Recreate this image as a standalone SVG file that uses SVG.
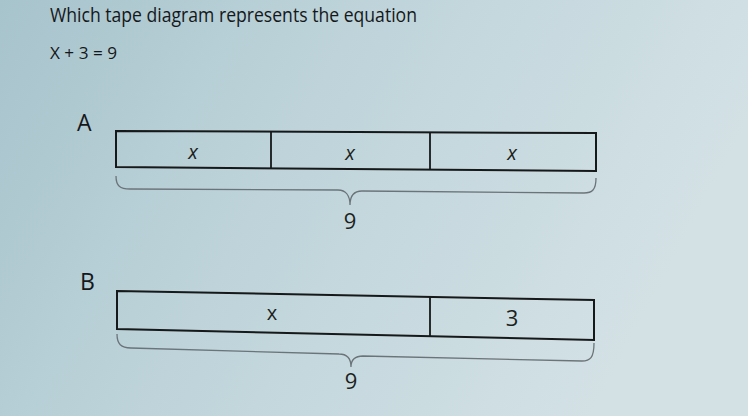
<svg xmlns="http://www.w3.org/2000/svg" width="748" height="416" viewBox="0 0 748 416">
<defs>
<linearGradient id="bg" x1="0" y1="0" x2="1" y2="0.3">
<stop offset="0" stop-color="#a7c3cc"/>
<stop offset="0.45" stop-color="#bed4da"/>
<stop offset="1" stop-color="#d3e1e5"/>
</linearGradient>
</defs>
<style>
.t{font-family:"Open Sans","Noto Sans",sans-serif;fill:#15181a}
.box{fill:none;stroke:#161819;stroke-width:2}
.div{stroke:#161819;stroke-width:1.8}
.brace{fill:none;stroke:#6b7479;stroke-width:1.3}
.lbl{font-family:"Open Sans","Noto Sans",sans-serif;fill:#1c1f21;font-size:20px;text-anchor:middle}
.num{font-family:"Open Sans","Noto Sans",sans-serif;fill:#1c1f21;font-size:22px;text-anchor:middle}
</style>
<rect width="748" height="416" fill="url(#bg)"/>
<g id="question">
<text class="t" x="50" y="22" font-size="20" font-weight="500" textLength="367" lengthAdjust="spacingAndGlyphs">Which tape diagram represents the equation</text>
<text class="t" x="50" y="59" font-size="17" textLength="67" lengthAdjust="spacingAndGlyphs">X + 3 = 9</text>
</g>
<g id="optionA">
<text class="t" x="77" y="131" font-size="23">A</text>
<polygon class="box" points="116,131 596,133 596,171 116,167"/>
<line class="div" x1="271" y1="131" x2="271" y2="168"/>
<line class="div" x1="430" y1="132" x2="430" y2="170"/>
<text class="lbl" x="193" y="159" font-style="italic">x</text>
<text class="lbl" x="350" y="160" font-style="italic">x</text>
<text class="lbl" x="512" y="160" font-style="italic">x</text>
</g>
<g id="optionB">
<text class="t" x="80" y="290" font-size="23">B</text>
<polygon class="box" points="117,291 594,300 594,340 117,329"/>
<line class="div" x1="430" y1="297" x2="430" y2="336"/>
<text class="lbl" x="272" y="320">x</text>
<text class="num" x="512" y="326">3</text>
</g>
<g id="connectors">
<path class="brace" d="M116,176 C116,186 120,189 130,189 L338,190 C346,190 350,196 350,205 C350,196 354,191 362,191 L584,193 C592,193 596,190 596,178"/>
<path class="brace" d="M117,334 C117,344 121,348 131,348 L339,354 C347,354 351,359 351,367 C351,359 355,356 363,356 L582,361 C590,361 594,358 594,343"/>
</g>
<g id="totals">
<text class="num" x="350" y="229">9</text>
<text class="num" x="351" y="389">9</text>
</g>
</svg>
